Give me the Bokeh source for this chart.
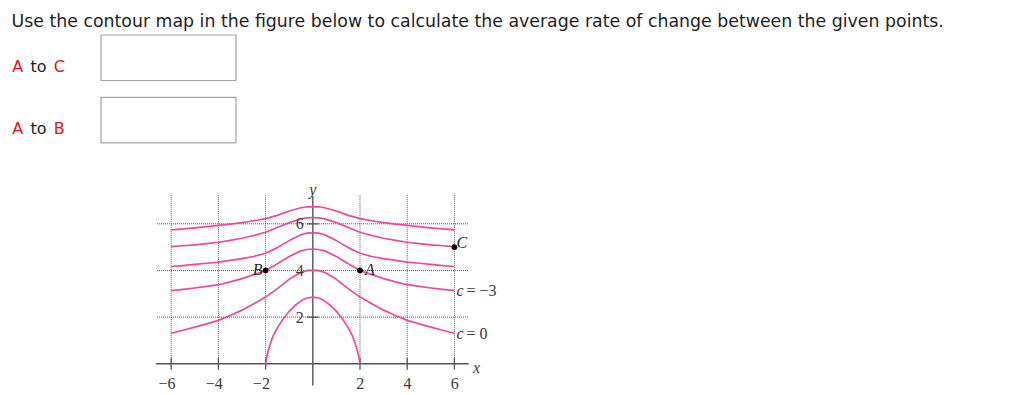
from bokeh.plotting import figure
from bokeh.models import Range1d, Label
from bokeh.core.properties import value
from bokeh.embed import file_html
from bokeh.resources import INLINE

# ---------------- page texts ----------------
question = "Use the contour map in the figure below to calculate the average rate of change between the given points."
row_from = ["A", "A"]
row_to = ["C", "B"]

# ---------------- chart data ----------------
curve_x = [-6, -5.5, -5, -4.5, -4, -3.5, -3, -2.5, -2, -1.5, -1, -0.5, -0.25, 0,
           0.25, 0.5, 1, 1.5, 2, 2.5, 3, 3.5, 4, 4.5, 5, 5.5, 6]
curve_1 = [5.74, 5.78, 5.83, 5.88, 5.93, 5.99, 6.05, 6.13, 6.22, 6.36, 6.55, 6.69, 6.73, 6.74,
           6.73, 6.69, 6.55, 6.36, 6.22, 6.13, 6.05, 5.99, 5.93, 5.88, 5.83, 5.78, 5.74]
curve_2 = [5.02, 5.06, 5.10, 5.15, 5.21, 5.29, 5.38, 5.50, 5.64, 5.84, 6.05, 6.21, 6.255, 6.27,
           6.255, 6.21, 6.05, 5.84, 5.64, 5.50, 5.38, 5.29, 5.21, 5.15, 5.10, 5.06, 5.02]
curve_3 = [4.17, 4.21, 4.26, 4.31, 4.36, 4.43, 4.51, 4.60, 4.74, 4.98, 5.28, 5.53, 5.60, 5.62,
           5.60, 5.53, 5.28, 4.98, 4.74, 4.60, 4.51, 4.43, 4.36, 4.31, 4.26, 4.21, 4.17]
curve_4 = [3.14, 3.19, 3.25, 3.32, 3.39, 3.51, 3.65, 3.82, 4.00, 4.29, 4.60, 4.84, 4.90, 4.92,
           4.90, 4.84, 4.60, 4.29, 4.00, 3.82, 3.65, 3.51, 3.39, 3.32, 3.25, 3.19, 3.14]
curve_5 = [1.31, 1.44, 1.57, 1.71, 1.86, 2.07, 2.30, 2.57, 2.86, 3.22, 3.62, 3.92, 3.99, 4.01,
           3.99, 3.92, 3.62, 3.22, 2.86, 2.57, 2.30, 2.07, 1.86, 1.71, 1.57, 1.44, 1.31]
inner_x = [-2, -1.95, -1.85, -1.7, -1.5, -1.25, -1, -0.75, -0.5, -0.25, 0,
           0.25, 0.5, 0.75, 1, 1.25, 1.5, 1.7, 1.85, 1.95, 2]
inner_y = [0.0, 0.30, 0.70, 1.15, 1.55, 1.93, 2.25, 2.50, 2.70, 2.82, 2.86,
           2.82, 2.70, 2.50, 2.25, 1.93, 1.55, 1.15, 0.70, 0.30, 0.0]

point_names = ["A", "B", "C"]
point_x = [2, -2, 6]
point_y = [4, 4, 5]

level_names = ["= \u22123", "= 0"]
level_y = [curve_4[-1], curve_5[-1]]

x_ticks = [-6, -4, -2, 2, 4, 6]
x_tick_labels = ["\u22126", "\u22124", "\u22122", "2", "4", "6"]
y_ticks = [2, 4, 6]
y_tick_labels = ["2", "4", "6"]

# ---------------- figure ----------------
W, H = 1008, 395
p = figure(width=W, height=H, x_range=Range1d(0, W), y_range=Range1d(H, 0),
           output_backend="svg", toolbar_location=None,
           x_axis_type=None, y_axis_type=None, min_border=0,
           outline_line_color=None)
# chart scale: x=0 at 312.3 px (23.6 px/unit), y=0 at 363.3 px (23.33 px/unit)
p.extra_x_ranges = {"cx": Range1d(-13.233, 29.479)}
p.extra_y_ranges = {"cy": Range1d(15.572 - H / 23.33, 15.572)}
CH = dict(x_range_name="cx", y_range_name="cy")

SANS = "DejaVu Sans"
SERIF = "Liberation Serif"
RED = "#e3131b"
INK = "#1e1e1e"
GRAY = "#3a3a3a"
FS = "16px"

p.add_layout(Label(x=11, y=20.7, text=question, text_font=SANS, text_font_size="17.35px",
                   text_color=INK, text_baseline="alphabetic"))

for i, (a, b) in enumerate(zip(row_from, row_to)):
    base = 66 + i * 62.3
    p.add_layout(Label(x=11.7, y=base, text=a, text_font=SANS, text_font_size="16px",
                       text_color=RED, text_baseline="alphabetic"))
    p.add_layout(Label(x=30, y=base, text="to", text_font=SANS, text_font_size="16px",
                       text_color=INK, text_baseline="alphabetic"))
    p.add_layout(Label(x=53.3, y=base, text=b, text_font=SANS, text_font_size="16px",
                       text_color=RED, text_baseline="alphabetic"))
    top = 34.5 + i * 62.3
    p.quad(left=100.5, right=235.5, top=top, bottom=top + 45.5, fill_color="white",
           line_color="#a3a3a3", line_width=1.2)

# grid (dotted)
p.segment(x0=x_ticks, y0=[0] * len(x_ticks), x1=x_ticks, y1=[7.25] * len(x_ticks),
          line_color="#555555", line_width=1, line_dash="1 1", **CH)
p.segment(x0=[-6.6] * len(y_ticks), y0=y_ticks, x1=[6.6] * len(y_ticks), y1=y_ticks,
          line_color="#555555", line_width=1, line_dash="1 1", **CH)

# axes
p.segment(x0=[-6.65, 0], y0=[0, -0.93], x1=[6.6, 0], y1=[0, 7.2],
          line_color="#555555", line_width=1.4, **CH)
p.segment(x0=x_ticks, y0=[-0.25] * len(x_ticks), x1=x_ticks, y1=[0.25] * len(x_ticks),
          line_color="#555555", line_width=1.3, **CH)
p.segment(x0=[-0.25] * len(y_ticks), y0=y_ticks, x1=[0.25] * len(y_ticks), y1=y_ticks,
          line_color="#555555", line_width=1.3, **CH)

# contours
p.multi_line(xs=[curve_x] * 5 + [inner_x],
             ys=[curve_1, curve_2, curve_3, curve_4, curve_5, inner_y],
             line_color="#ec4b9d", line_width=1.7, line_join="round", **CH)

p.scatter(point_x, point_y, size=5, color="black", **CH)

# tick labels
p.text(x=x_ticks, y=[0] * len(x_ticks), text=x_tick_labels, text_align="right",
       x_offset=4.3, y_offset=20, text_baseline="alphabetic",
       text_font=value(SERIF), text_font_size=FS, text_color=GRAY, **CH)
p.text(x=[0] * len(y_ticks), y=y_ticks, text=y_tick_labels, text_align="right",
       x_offset=-9, text_baseline="middle",
       text_font=value(SERIF), text_font_size=FS, text_color=GRAY, **CH)

# axis names
p.add_layout(Label(x=0, y=7.2, text="y", y_offset=6.5, text_align="center",
                   text_baseline="alphabetic", text_font=SERIF, text_font_style="italic",
                   text_font_size=FS, text_color=GRAY, **CH))
p.add_layout(Label(x=6.6, y=0, text="x", x_offset=4.5, y_offset=-3.4, text_align="left",
                   text_baseline="alphabetic", text_font=SERIF, text_font_style="italic",
                   text_font_size=FS, text_color=GRAY, **CH))

# point labels
p.add_layout(Label(x=point_x[0], y=point_y[0], text=point_names[0], x_offset=5, y_offset=1,
                   text_align="left", text_baseline="alphabetic", text_font=SERIF,
                   text_font_style="italic", text_font_size=FS, text_color="#2a2a2a", **CH))
p.add_layout(Label(x=point_x[1], y=point_y[1], text=point_names[1], x_offset=-3, y_offset=1,
                   text_align="right", text_baseline="alphabetic", text_font=SERIF,
                   text_font_style="italic", text_font_size=FS, text_color="#2a2a2a", **CH))
p.add_layout(Label(x=point_x[2], y=point_y[2], text=point_names[2], x_offset=2, y_offset=4.5,
                   text_align="left", text_baseline="alphabetic", text_font=SERIF,
                   text_font_style="italic", text_font_size=FS, text_color="#2a2a2a", **CH))

# level labels
for name, ly in zip(level_names, level_y):
    p.add_layout(Label(x=6, y=ly, text="c", x_offset=2, text_align="left",
                       text_baseline="middle", text_font=SERIF, text_font_style="italic",
                       text_font_size=FS, text_color=GRAY, **CH))
    p.add_layout(Label(x=6, y=ly, text=name, x_offset=12, text_align="left",
                       text_baseline="middle", text_font=SERIF,
                       text_font_size=FS, text_color=GRAY, **CH))

open("out.html", "w").write(file_html(p, INLINE))
